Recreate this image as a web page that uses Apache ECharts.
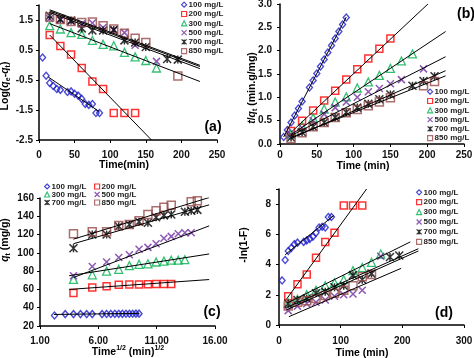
<!DOCTYPE html>
<html><head><meta charset="utf-8">
<script src="https://cdn.jsdelivr.net/npm/echarts@6/dist/echarts.min.js"></script>
<style>html,body{margin:0;padding:0;background:#fff}#c{width:474px;height:358px}</style>
</head><body><div id="c"></div>
<script>
const concentrations = ['100 mg/L','200 mg/L','300 mg/L','500 mg/L','700 mg/L','850 mg/L'];

// ---- panel (a): Log(qe-qt) vs time ----
const a100_t = [5,10,15,20,25,30,40,45,50,55,60,65,70,75,80,85];
const a100_v = [0.25,-0.36,-0.6,-0.7,-0.8,-0.83,-0.9,-0.88,-0.96,-1.02,-1.13,-1.3,-1.33,-1.3,-1.6,-1.6];
const a200_t = [15,30,45,60,75,90,105,120,135];
const a200_v = [1.0,0.63,0.35,-0.1,-0.55,-0.8,-1.6,-1.6,-1.6];
const a300_t = [15,30,45,60,75,90,105,120,135,150,165];
const a300_v = [1.31,1.2,1.08,1.02,0.82,0.69,0.64,0.42,0.27,0.15,-0.1];
const a500_t = [15,30,45,60,75,90,105,120,135,165];
const a500_v = [1.55,1.5,1.46,1.37,1.4,1.25,1.17,1.08,0.66,0.12];
const a700_t = [15,30,45,60,75,90,105,120,135,150,180,195];
const a700_v = [1.64,1.53,1.48,1.22,1.15,1.15,1.17,0.82,0.75,0.6,0.2,0.18];
const a850_t = [15,30,45,60,75,90,105,120,135,150,195];
const a850_v = [1.6,1.52,1.45,1.42,1.43,1.31,1.2,1.06,0.89,0.75,-0.37];
const a_fit = [[13,-0.4,85,-1.56],[15,1.0,158,-2.5],[15,1.38,226,-0.55],[15,1.75,226,-0.12],[15,1.8,226,-0.05],[15,1.84,226,-0.01]];

// ---- panel (b): t/qt vs time ----
const b100_t = [5,10,15,20,25,30,40,45,50,55,60,65,70,75,80,85,90];
const b100_v = [0.15,0.3,0.46,0.61,0.76,0.91,1.21,1.36,1.51,1.66,1.81,1.96,2.11,2.26,2.41,2.56,2.71];
const b200_t = [15,30,45,60,75,90,105,120,135,150];
const b200_v = [0.28,0.5,0.72,0.93,1.14,1.38,1.6,1.83,2.04,2.26];
const b300_t = [15,30,45,60,75,90,105,120,135,150,165,180];
const b300_v = [0.21,0.39,0.56,0.75,0.9,1.01,1.2,1.33,1.47,1.62,1.78,1.93];
const b500_t = [15,30,45,60,75,90,105,120,135,150,165,195];
const b500_v = [0.2,0.35,0.5,0.64,0.78,0.9,1.0,1.12,1.19,1.29,1.38,1.61];
const b700_t = [15,30,45,60,75,90,105,120,135,150,180,195,210];
const b700_v = [0.14,0.25,0.37,0.46,0.57,0.68,0.78,0.86,0.96,1.06,1.25,1.35,1.45];
const b850_t = [15,30,45,60,75,90,105,120,135,150,195,210];
const b850_v = [0.12,0.24,0.37,0.46,0.57,0.67,0.74,0.82,0.9,0.99,1.25,1.34];
const b_fit = [[5,0.15,90,2.72],[15,0.25,201,3.0],[15,0.2,225,2.41],[15,0.18,225,1.87],[15,0.12,225,1.57],[15,0.14,225,1.46]];

// ---- panel (c): qt vs time^1/2 ----
const c100_x = [2.24,3.16,3.87,4.47,5.0,5.48,6.32,6.71,7.07,7.42,7.75,8.06,8.37,8.66,8.94,9.22,9.49];
const c100_v = [31.5,33,33,33,33,33,33,33.2,33.2,33.3,33.3,33.3,33.4,33.4,33.4,33.5,33.5];
const c200_x = [3.87,5.48,6.71,7.75,8.66,9.49,10.25,10.95,11.62,12.25];
const c200_v = [56,62,63.5,65,65.5,65.5,65.7,66,66,66];
const c300_x = [3.87,5.48,6.71,7.75,8.66,9.49,10.25,10.95,11.62,12.25,12.85,13.42];
const c300_v = [71,76,80,82,86,87.5,88,90,91,92,92,92.5];
const c500_x = [3.87,5.48,6.71,7.75,8.66,9.49,10.25,10.95,11.62,12.25,12.85,13.42,13.96];
const c500_v = [75,85,90,95,98,104,106,110,116,118,121,122,122];
const c700_x = [3.87,5.48,6.71,7.75,8.66,9.49,10.25,10.95,11.62,12.25,13.42,13.96,14.49];
const c700_v = [105,120,120,129,131,134,133,139,141,142,145,146,147];
const c850_x = [3.87,5.48,6.71,7.75,8.66,9.49,10.25,10.95,11.62,12.25,13.96,14.49];
const c850_v = [121,123,123,130,131,135,142,146,150,152,156,157];
const c_fit = [[2.2,32.6,9.5,33.8],[3.5,60,15.5,70.8],[3.5,75,15.5,98.8],[3.87,73,15.5,129.5],[3.87,110,15.5,152.5],[3.87,115,15.5,160.5]];

// ---- panel (d): -ln(1-F) vs time ----
const d100_t = [5,10,15,20,25,30,40,45,50,55,60,65,70,75,80,85];
const d100_v = [2.95,4.3,4.9,5.1,5.35,5.45,5.5,5.6,5.7,5.85,6.1,6.45,6.5,6.45,7.15,7.15];
const d200_t = [15,30,45,60,75,90,105,120,135];
const d200_v = [1.9,2.7,3.35,4.45,5.5,6.1,7.9,7.9,7.9];
const d300_t = [15,30,45,60,75,90,105,120,135,150,165];
const d300_v = [1.45,1.7,2.0,2.3,2.6,2.8,3.0,3.6,3.8,4.15,4.7];
const d500_t = [15,30,45,60,75,90,105,120,135,165];
const d500_v = [0.95,1.25,1.4,1.5,1.65,1.9,2.0,2.05,2.3,4.55];
const d700_t = [15,30,45,60,75,90,105,120,135,150,180,195];
const d700_v = [1.4,1.65,1.75,2.1,2.2,2.5,2.6,3.3,3.0,3.4,4.5,4.6];
const d850_t = [15,30,45,60,75,90,105,120,135,150];
const d850_v = [1.25,1.5,1.6,1.75,1.95,2.1,2.3,2.6,3.2,3.35];
const d_fit = [[10,4.65,89,7.25],[12,1.7,142,9.0],[13,1.45,213,5.5],[16,0.55,198,3.75],[12,1.15,226,5.05],[12,1.0,226,4.9]];

// ---- styling ----
const FF = 'Liberation Sans, Arial, sans-serif';
const COL = ['#1c1cc8','#ff0000','#00b050','#7030a0','#000000','#974a4a'];
const SYM = ['diamond','rect','triangle','path://M0,0L10,10M10,0L0,10','path://M0,0L10,10M10,0L0,10M5,0L5,10','rect'];
const SIZE = [[6,7],7,8,7,8,8];
const BW = [1.4,1.5,1.3,1.5,1.5,1.5];

const panels = [
  [[a100_t,a100_v],[a200_t,a200_v],[a300_t,a300_v],[a500_t,a500_v],[a700_t,a700_v],[a850_t,a850_v]],
  [[b100_t,b100_v],[b200_t,b200_v],[b300_t,b300_v],[b500_t,b500_v],[b700_t,b700_v],[b850_t,b850_v]],
  [[c100_x,c100_v],[c200_x,c200_v],[c300_x,c300_v],[c500_x,c500_v],[c700_x,c700_v],[c850_x,c850_v]],
  [[d100_t,d100_v],[d200_t,d200_v],[d300_t,d300_v],[d500_t,d500_v],[d700_t,d700_v],[d850_t,d850_v]]
];
const fits = [a_fit,b_fit,c_fit,d_fit];

const series = [];
panels.forEach((p, gi) => {
  p.forEach((s, k) => {
    series.push({
      type:'scatter', name: concentrations[k], xAxisIndex: gi, yAxisIndex: gi,
      data: s[0].map((x,i)=>[x, s[1][i]]),
      symbol: SYM[k], symbolSize: SIZE[k], z: 2,
      itemStyle:{color:'rgba(0,0,0,0)', borderColor: COL[k], borderWidth: BW[k]}
    });
  });
  fits[gi].forEach(f => {
    series.push({
      type:'line', xAxisIndex: gi, yAxisIndex: gi, data:[[f[0],f[1]],[f[2],f[3]]],
      symbol:'none', showSymbol:false, silent:true, z:3,
      lineStyle:{color:'#000', width:1}
    });
  });
});

const RICH = {
  n:{fontSize:10.5, fontWeight:'bold', lineHeight:14, fontFamily:FF, fill:'#000', color:'#000'},
  i:{fontSize:10.5, fontWeight:'bold', fontStyle:'italic', lineHeight:14, fontFamily:FF, fill:'#000', color:'#000'},
  s:{fontSize:7, fontWeight:'bold', lineHeight:7, verticalAlign:'bottom', fontFamily:FF, fill:'#000', color:'#000'},
  p:{fontSize:7, fontWeight:'bold', lineHeight:7, verticalAlign:'top', fontFamily:FF, fill:'#000', color:'#000'}
};

function xAx(gi, min, max, interval, fmt, margin){
  return {type:'value', gridIndex: gi, min, max, interval,
    axisLine:{onZero:false, lineStyle:{color:'#000', width:1.5}},
    axisTick:{show:true, length:3, lineStyle:{color:'#000', width:1}},
    splitLine:{show:false},
    axisLabel:{fontSize:10, fontWeight:'bold', fontFamily:FF, color:'#111', margin, formatter: fmt, hideOverlap:false}};
}
function yAx(gi, min, max, interval, fmt, margin){
  return {type:'value', gridIndex: gi, min, max, interval,
    axisLine:{onZero:false, lineStyle:{color:'#000', width:1.5}},
    axisTick:{show:true, length:3, lineStyle:{color:'#000', width:1}},
    splitLine:{show:false},
    axisLabel:{fontSize:10, fontWeight:'bold', fontFamily:FF, color:'#111', margin, formatter: fmt}};
}

function legend(left, top, data, gap, lh){
  return {left, top, orient:'vertical', data, itemWidth:5, itemHeight:5, itemGap: gap, padding:0,
    selectedMode:false, itemStyle:{borderWidth:1.2},
    textStyle:{fontSize:8, fontWeight:'bold', fontFamily:FF, color:'#222', lineHeight: lh, padding:[0,0,0,-3]}};
}

function label(x, y, text, rot){
  return {type:'text', x, y, rotation: rot ? Math.PI/2 : 0, silent:true,
    style:{text, rich: RICH, fontSize:10.5, fontWeight:'bold', fontFamily:FF, fill:'#000', align:'center', verticalAlign:'middle'}};
}
function tag(x, y, text){
  return {type:'text', x, y, silent:true, style:{text, fontSize:14, fontWeight:'bold', fontFamily:FF, fill:'#000', align:'center', verticalAlign:'middle'}};
}

const option = {
  animation:false,
  backgroundColor:'#fff',
  grid:[
    {left:39, top:5, width:178, height:135, outerBoundsMode:'none', containLabel:false},
    {left:280, top:4, width:184, height:140, outerBoundsMode:'none', containLabel:false},
    {left:40, top:198, width:175, height:128, outerBoundsMode:'none', containLabel:false},
    {left:279, top:189, width:185, height:136, outerBoundsMode:'none', containLabel:false}
  ],
  xAxis:[
    xAx(0, 0, 250, 50, v=>String(v), 10),
    xAx(1, 0, 250, 50, v=>String(v), 6),
    xAx(2, 1, 16, 5, v=>v.toFixed(2), 10),
    xAx(3, 0, 300, 100, v=>String(v), 11)
  ],
  yAxis:[
    yAx(0, -2.5, 2, 1, v=> v>1.9 ? '' : v.toFixed(1), 6),
    yAx(1, 0, 3, 0.5, v=>v.toFixed(1), 8),
    yAx(2, 20, 160, 20, v=>String(v), 6),
    yAx(3, 0, 9, 2, v=> v>8.5 ? '' : String(v), 8)
  ],
  legend:[
    legend(181, 0.7, concentrations, 1.3, 8),
    legend(427, 87.7, concentrations, 1.3, 8),
    legend(44, 182.5, ['100 mg/L','300 mg/L','700 mg/L'], 0, 7.7),
    legend(94, 182.5, ['200 mg/L','500 mg/L','850 mg/L'], 0, 7.7),
    legend(416, 188.3, concentrations, 1.9, 8)
  ],
  graphic:[
    tag(213, 127, '(a)'), tag(466, 14, '(b)'), tag(212, 312, '(c)'), tag(444, 313, '(d)'),
    label(124, 165, '{n|Time(min)}', false),
    label(363, 166, '{n|Time (min)}', false),
    label(128, 352, '{n|Time}{p|1/2}{n| (min)}{p|1/2}', false),
    label(362, 353, '{n|Time (min)}', false),
    label(5, 86, '{n|Log(}{i|q}{s|e}{n|-}{i|q}{s|t}{n|)}', true),
    label(252, 88, '{i|t}{n|/}{i|q}{s|t}{n| (min.g/mg)}', true),
    label(5, 240, '{i|q}{s|t}{n| (mg/g)}', true),
    label(244.5, 245, '{n|-ln(1-F)}', true)
  ],
  series
};
const chart = echarts.init(document.getElementById('c'), null, {renderer:'canvas'});
chart.setOption(option);
</script></body></html>
